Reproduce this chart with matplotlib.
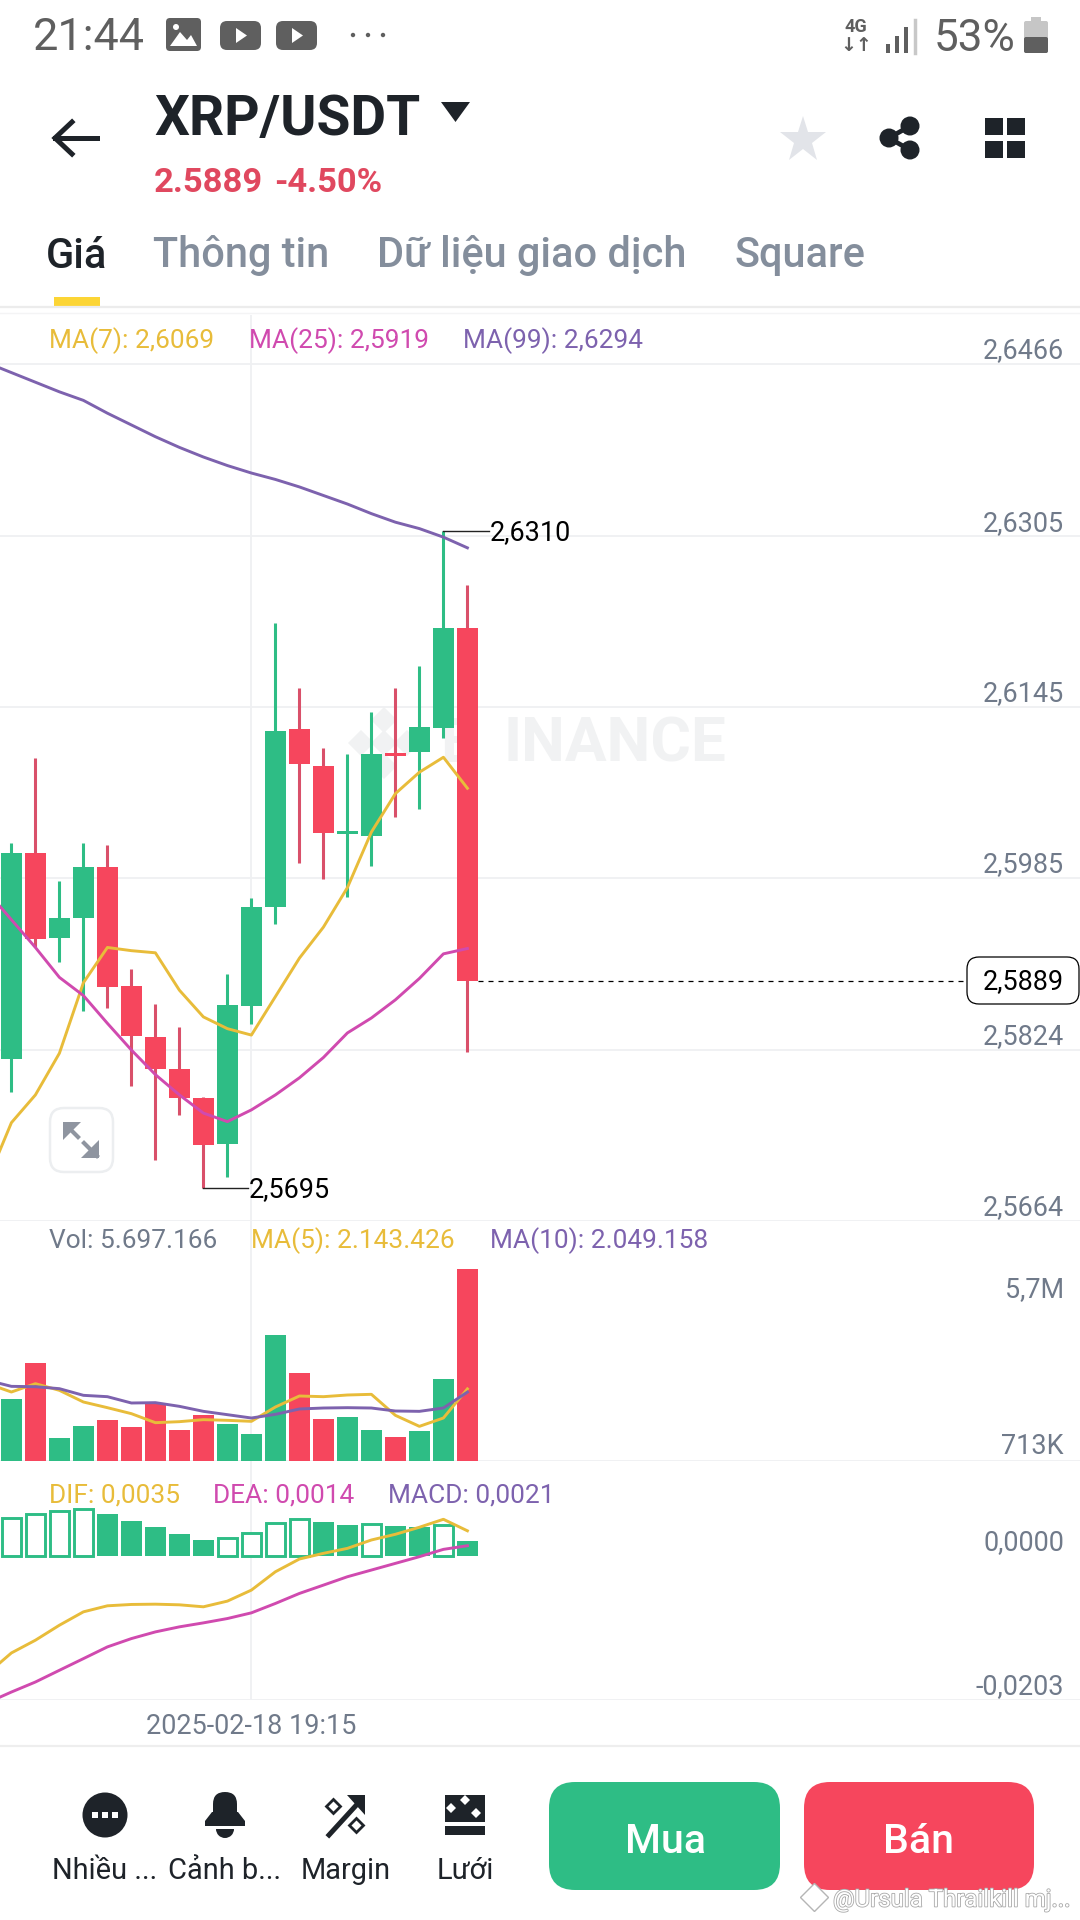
import matplotlib
matplotlib.use('Agg')
import matplotlib.pyplot as plt
import matplotlib.patheffects as pe
from matplotlib.patches import FancyBboxPatch, Polygon, Circle, Wedge

plt.rcParams['font.family'] = ['Roboto', 'DejaVu Sans']

# ---- data ----
idx = list(range(20))
opens = [2.5816, 2.6008, 2.5929, 2.5948, 2.5995, 2.5884, 2.5836, 2.5806, 2.5779, 2.5736,
         2.5865, 2.5958, 2.6124, 2.6090, 2.6026, 2.6024, 2.6102, 2.6103, 2.6125, 2.6219]
closes = [2.6008, 2.5928, 2.5948, 2.5995, 2.5883, 2.5837, 2.5806, 2.5779, 2.5735, 2.5866,
          2.5958, 2.6123, 2.6092, 2.6027, 2.6029, 2.6101, 2.6099, 2.6126, 2.6219, 2.5889]
highs = [2.6018, 2.6097, 2.5982, 2.6018, 2.6016, 2.5900, 2.5867, 2.5846, 2.5780, 2.5895,
         2.5966, 2.6224, 2.6163, 2.6107, 2.6101, 2.6140, 2.6163, 2.6183, 2.6310, 2.6259]
lows = [2.5785, 2.5920, 2.5906, 2.5861, 2.5863, 2.5790, 2.5721, 2.5763, 2.5695, 2.5705,
        2.5848, 2.5942, 2.5999, 2.5984, 2.5967, 2.5996, 2.6042, 2.6050, 2.6116, 2.5822]

# moving averages carry one extra point left of the first visible candle
ma_x = list(range(-1, 20))
ma7 = [2.5702, 2.5756, 2.5782, 2.5821, 2.5887, 2.5920, 2.5917, 2.5915, 2.5880, 2.5855, 2.5844,
       2.5838, 2.5874, 2.5910, 2.5939, 2.5976, 2.6028, 2.6064, 2.6084, 2.6098, 2.6069]
ma25 = [2.5972, 2.5946, 2.5920, 2.5892, 2.5875, 2.5849, 2.5824, 2.5801, 2.5782, 2.5765, 2.5757,
        2.5768, 2.5782, 2.5798, 2.5817, 2.5840, 2.5854, 2.5871, 2.5891, 2.5914, 2.5919]
ma99 = [2.6467, 2.6458, 2.6449, 2.6440, 2.6432, 2.6420, 2.6409, 2.6398, 2.6388, 2.6379, 2.6371,
        2.6364, 2.6358, 2.6351, 2.6343, 2.6335, 2.6326, 2.6318, 2.6312, 2.6304, 2.6294]

volume = [1.853, 2.923, 0.694, 1.030, 1.209, 1.011, 1.684, 0.912, 1.357, 1.100,
          0.812, 3.745, 2.616, 1.258, 1.298, 0.912, 0.723, 0.902, 2.437, 5.697]
vol_ma5 = [2.300, 2.051, 2.299, 2.100, 1.754, 1.585, 1.407, 1.139, 1.169, 1.229, 1.209,
           1.179, 1.605, 1.932, 1.912, 1.962, 1.982, 1.357, 1.030, 1.278, 2.143]
vol_ma10 = [2.398, 2.219, 2.209, 2.150, 1.952, 1.912, 1.724, 1.734, 1.625, 1.476, 1.377,
            1.278, 1.387, 1.546, 1.575, 1.585, 1.575, 1.486, 1.476, 1.575, 2.049]

macd = [0.00526, 0.00588, 0.00630, 0.00663, 0.00583, 0.00489, 0.00400, 0.00310, 0.00216, 0.00254,
        0.00324, 0.00456, 0.00512, 0.00475, 0.00432, 0.00442, 0.00414, 0.00400, 0.00432, 0.0021]
macd_hollow = [1, 1, 1, 1, 0, 0, 0, 0, 0, 1, 1, 1, 1, 0, 0, 1, 0, 0, 1, 0]
dif = [-0.01659, -0.01368, -0.01189, -0.00978, -0.00790, -0.00705, -0.00686, -0.00682, -0.00691, -0.00719, -0.00639,
       -0.00484, -0.00226, -0.00047, 0.00033, 0.00103, 0.00221, 0.00301, 0.00400, 0.00512, 0.0035]
dea = [-0.02068, -0.01918, -0.01777, -0.01612, -0.01448, -0.01283, -0.01166, -0.01072, -0.01001, -0.00945, -0.00884,
       -0.00804, -0.00672, -0.00531, -0.00414, -0.00296, -0.00202, -0.00108, -0.00014, 0.00089, 0.0014]

price_ticks = [2.6466, 2.6305, 2.6145, 2.5985, 2.5824, 2.5664]
price_labels = ['2,6466', '2,6305', '2,6145', '2,5985', '2,5824', '2,5664']
date_label = '2025-02-18 19:15'

# ---- colours ----
GREEN = '#2ebd85'
RED = '#f6465d'
WICK_RED = '#d9506a'
YEL = '#e8bc3a'
PINK = '#d04aaf'
PUR = '#7d62ae'
GREY = '#848e9c'
AXGREY = '#707a8a'
DARK = '#1e2329'
GRID = '#eff0f2'

W, H = 1080, 1920
fig = plt.figure(figsize=(W / 100, H / 100), dpi=100, facecolor='white')


def fs(px):
    return px * 72 / 100


def panel(top, bottom):
    ax = fig.add_axes([0, 1 - bottom / H, 1, (bottom - top) / H], zorder=2)
    ax.patch.set_visible(False)
    for s in ax.spines.values():
        s.set_visible(False)
    ax.set_xlim(-0.475, 44.525)
    ax.set_axisbelow(True)
    ax.grid(True, color=GRID, lw=1.3)
    ax.set_xticks([10])
    ax.tick_params(length=0, labelleft=False, labelbottom=False)
    return ax


def right_label(ax, val, txt, dy):
    ax.annotate(txt, xy=(1, val), xycoords=('axes fraction', 'data'), xytext=(-16, dy),
                textcoords='offset pixels', ha='right', va='center', color=AXGREY, fontsize=fs(27))


# background layer for the watermark
bg = fig.add_axes([0, 0, 1, 1], zorder=0)
bg.set_xlim(0, W)
bg.set_ylim(H, 0)
bg.axis('off')
bg.text(480, 745, 'B', ha='right', va='center', color='#f1f2f3', fontsize=fs(62), weight='bold')
bg.text(726, 745, 'INANCE', ha='right', va='center', color='#f1f2f3', fontsize=fs(62), weight='bold')
for cx, cy in [(384, 720), (384, 766), (361, 743), (407, 743), (384, 743)]:
    bg.plot(cx, cy, marker='D', ms=13, color='#f1f2f3', mew=0)

# ---- price panel ----
ax1 = panel(315, 1221)
ax1.set_ylim(2.5664, 2.65119)
ax1.set_yticks(price_ticks)
for v, t in zip(price_ticks, price_labels):
    right_label(ax1, v, t, 13)
for i in idx:
    up = closes[i] >= opens[i]
    ax1.vlines(i, lows[i], highs[i], color=GREEN if up else WICK_RED, lw=2.2, zorder=2)
    ax1.bar(i, abs(closes[i] - opens[i]), bottom=min(opens[i], closes[i]), width=0.86,
            color=GREEN if up else RED, lw=0, zorder=3)
ax1.plot(ma_x, ma7, color=YEL, lw=2.1, zorder=4)
ax1.plot(ma_x, ma25, color=PINK, lw=2.1, zorder=4)
ax1.plot(ma_x, ma99, color=PUR, lw=2.1, zorder=4)
ax1.plot([18, 19.9], [highs[18], highs[18]], color='#222222', lw=1, zorder=5)
ax1.text(19.93, highs[18] - 0.00015, '2,6310', color='black', fontsize=fs(27), va='center', zorder=6)
ax1.plot([8, 9.85], [lows[8], lows[8]], color='#222222', lw=1, zorder=5)
ax1.text(9.88, lows[8] - 0.00015, '2,5695', color='black', fontsize=fs(27), va='center', zorder=6)
ax1.plot([19.45, 39.8], [closes[19], closes[19]], color='black', lw=0.9, ls=(0, (4, 4)), zorder=5)

# ---- volume panel ----
ax2 = panel(1221, 1461)
ax2.set_ylim(0, 7.134)
ax2.set_yticks([0])
ax2.bar(idx, volume, width=0.86, lw=0, zorder=3,
        color=[GREEN if c >= o else RED for o, c in zip(opens, closes)])
ax2.plot(ma_x, vol_ma5, color=YEL, lw=2.1, zorder=4)
ax2.plot(ma_x, vol_ma10, color=PUR, lw=2.1, zorder=4)
right_label(ax2, 5.697, '5,7M', -20)
right_label(ax2, 0, '713K', 14)

# ---- MACD panel ----
ax3 = panel(1461, 1700)
ax3.set_ylim(-0.0203, 0.01332)
ax3.set_yticks([-0.0203])
ax3.set_xticklabels([date_label])
ax3.tick_params(labelbottom=True, labelcolor=AXGREY, labelsize=fs(27), pad=9)
for i in idx:
    if macd_hollow[i]:
        ax3.bar(i, macd[i], width=0.82, fc='white', ec=GREEN, lw=2.1, zorder=3)
    else:
        ax3.bar(i, macd[i], width=0.86, color=GREEN, lw=0, zorder=3)
ax3.plot(ma_x, dif, color=YEL, lw=2.1, zorder=4)
ax3.plot(ma_x, dea, color=PINK, lw=2.1, zorder=4)
right_label(ax3, 0, '0,0000', 13)
right_label(ax3, -0.0203, '-0,0203', 13)

# ---- screen chrome, pixel coordinates ----
ui = fig.add_axes([0, 0, 1, 1], zorder=5)
ui.set_xlim(0, W)
ui.set_ylim(H, 0)
ui.axis('off')


def txt(x, y, s, px, color, ha='left', weight='normal', **kw):
    return ui.text(x, y, s, fontsize=fs(px), color=color, ha=ha, va='center', weight=weight, **kw)


def rr(x0, y0, x1, y1, r, fc, ec='none', lw=0):
    ui.add_patch(FancyBboxPatch((x0, y0), x1 - x0, y1 - y0, boxstyle=f'round,pad=0,rounding_size={r}',
                                fc=fc, ec=ec, lw=lw))


# status bar
SB = '#5f5f5f'
txt(33, 38, '21:44', 45, SB)
rr(166, 18, 201, 51, 4, SB)
ui.add_patch(Polygon([(170, 46), (180, 32), (187, 40), (191, 35), (197, 46)], fc='white'))
ui.add_patch(Circle((176, 27), 3, fc='white'))
for x0 in (220, 276):
    rr(x0, 21, x0 + 41, 50, 7, SB)
    ui.add_patch(Polygon([(x0 + 16, 28), (x0 + 16, 43), (x0 + 27, 35.5)], fc='white'))
for x in (353, 368, 383):
    ui.add_patch(Circle((x, 35), 2.2, fc=SB))
txt(856, 27, '4G', 18, SB, ha='center', weight='bold')
txt(856, 46, '↓↑', 19, SB, ha='center', weight='bold')
ui.bar([888, 897, 906], [9, 17, 26], width=4, bottom=[53 - 9, 53 - 17, 53 - 26], color=SB)
ui.plot([915, 915], [20, 53], color='#c8c8c8', lw=2.5)
txt(934, 39, '53%', 44, SB)
rr(1024, 21, 1048, 53, 2, '#c6c6c6')
ui.add_patch(Polygon([(1031, 21), (1031, 17), (1041, 17), (1041, 21)], fc='#c6c6c6'))
rr(1024, 37, 1048, 53, 2, SB)

# header
ui.plot([55, 97], [138, 138], color=DARK, lw=3.6)
ui.plot([72, 55, 72], [122, 138, 154], color=DARK, lw=3.6, solid_joinstyle='miter')
txt(154, 120, 'XRP/USDT', 55, DARK, weight=600)
ui.add_patch(Polygon([(441, 102), (470, 102), (455.5, 122)], fc=DARK))
txt(154, 183, '2.5889', 34.5, '#e0485f', weight=600)
txt(274, 183, '-4.50%', 34.5, '#e0485f', weight=600)
ui.plot(803, 140, marker='*', ms=35, color='#e2e4e9', mew=0)
for a, b in [((889, 138), (910, 126)), ((889, 138), (910, 150))]:
    ui.plot([a[0], b[0]], [a[1], b[1]], color=DARK, lw=3.4)
for c in [(889, 138), (910, 126), (910, 150)]:
    ui.add_patch(Circle(c, 9.5, fc=DARK))
for x0 in (985, 1007):
    for y0 in (118, 141):
        ui.add_patch(Polygon([(x0, y0), (x0 + 18, y0), (x0 + 18, y0 + 17), (x0, y0 + 17)], fc=DARK))

# tabs
txt(46, 256, 'Giá', 41.5, DARK, weight=500)
txt(153, 256, 'Thông tin', 41.5, GREY, weight=500)
txt(377, 256, 'Dữ liệu giao dịch', 41.5, GREY, weight=500)
txt(735, 256, 'Square', 41.5, GREY, weight=500)
ui.add_patch(Polygon([(54, 297), (100, 297), (100, 306), (54, 306)], fc='#fcd535'))
ui.plot([0, W], [307, 307], color='#ececec', lw=1.6)
ui.plot([0, W], [313, 313], color='#f4f4f5', lw=1)

# indicator legends
LEG = 26.3
txt(49, 341, 'MA(7): 2,6069', LEG, YEL)
txt(249, 341, 'MA(25): 2,5919', LEG, PINK)
txt(463, 341, 'MA(99): 2,6294', LEG, PUR)
txt(49, 1241, 'Vol: 5.697.166', LEG, AXGREY)
txt(251, 1241, 'MA(5): 2.143.426', LEG, YEL)
txt(490, 1241, 'MA(10): 2.049.158', LEG, PUR)
txt(49, 1496, 'DIF: 0,0035', LEG, YEL)
txt(213, 1496, 'DEA: 0,0014', LEG, PINK)
txt(388, 1496, 'MACD: 0,0021', LEG, PUR)

# last price box
rr(967, 957, 1079, 1004, 12, 'white', ec='black', lw=0.9)
txt(1023, 982, '2,5889', 27, 'black', ha='center')

# expand button
rr(50, 1108, 113, 1172, 14, 'white', ec='#eceef0', lw=1.8)
ui.add_patch(Polygon([(63, 1122), (81, 1122), (63, 1140)], fc='#8f95a0'))
ui.add_patch(Polygon([(99, 1158), (99, 1140), (81, 1158)], fc='#8f95a0'))
ui.plot([66, 78], [1125, 1137], color='#8f95a0', lw=3)
ui.plot([84, 97], [1143, 1156], color='#8f95a0', lw=3)

# bottom bar
ui.plot([0, W], [1746, 1746], color='#eeeeee', lw=1.6)
ui.add_patch(Circle((105, 1815), 22.5, fc=DARK))
for x in (95, 105, 115):
    ui.add_patch(Polygon([(x - 3, 1812), (x + 3, 1812), (x + 3, 1818), (x - 3, 1818)], fc='white'))
rr(213, 1792, 237, 1825, 12, DARK)
ui.add_patch(Polygon([(205, 1826), (245, 1826), (245, 1821), (238, 1812), (212, 1812), (205, 1821)], fc=DARK))
ui.add_patch(Wedge((225, 1829), 9, 0, 180, fc=DARK))
ui.plot([329, 361], [1835, 1800], color=DARK, lw=3.6)
ui.add_patch(Polygon([(347, 1795), (365, 1795), (365, 1815)], fc=DARK))
ui.plot(333, 1806, marker='D', ms=7, mfc='white', mec=DARK, mew=2)
ui.plot(356, 1825, marker='D', ms=7, mfc='white', mec=DARK, mew=2)
ui.add_patch(Polygon([(445, 1795), (485, 1795), (485, 1822), (445, 1822)], fc=DARK))
ui.add_patch(Polygon([(445, 1826), (485, 1826), (485, 1835), (445, 1835)], fc=DARK))
for cx, cy in [(451, 1808), (465, 1800), (476, 1813)]:
    ui.plot(cx, cy, marker='D', ms=5, color='white', mew=0)
for x, s in [(105, 'Nhiều ...'), (225, 'Cảnh b...'), (346, 'Margin'), (465, 'Lưới')]:
    txt(x, 1871, s, 29, DARK, ha='center')
rr(549, 1782, 780, 1890, 26, GREEN)
rr(804, 1782, 1034, 1890, 26, RED)
txt(665, 1842, 'Mua', 41, 'white', ha='center', weight=500)
txt(919, 1842, 'Bán', 41, 'white', ha='center', weight=500)

# overlay at the corner
ui.plot(814, 1897, marker='D', ms=14, mfc='white', mec='#b5b5b5', mew=1)
txt(833, 1900, '@Ursula Thrailkill mj...', 24, 'white',
    path_effects=[pe.withStroke(linewidth=1.2, foreground='#a8a8a8')])

fig.savefig('out.png', dpi=100)
